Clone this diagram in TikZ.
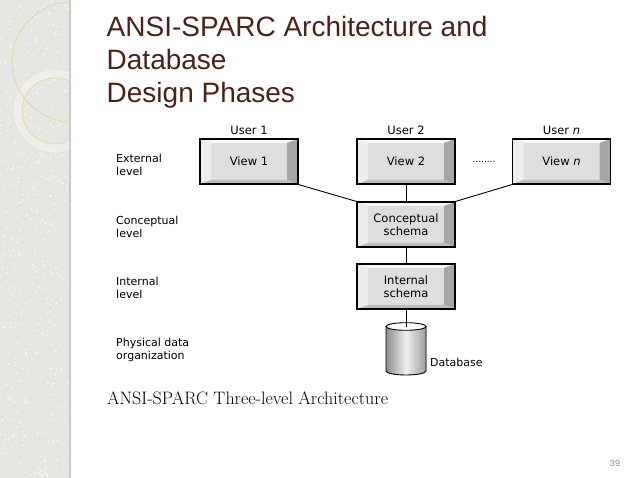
\documentclass[tikz,border=0pt]{standalone}
\usepackage{fontspec}
\setmainfont{Liberation Sans}
\newfontfamily\diafont{DejaVu Sans}
\newfontfamily\capfont{Latin Modern Roman}
\definecolor{titlecol}{HTML}{4B2316}
\definecolor{stripcol}{HTML}{E6E6E3}
\definecolor{goldcol}{HTML}{E6D9A8}
\definecolor{ringcol}{HTML}{EFEEE9}
\definecolor{bevtop}{HTML}{F7F7F7}
\definecolor{bevleft}{HTML}{EDEDED}
\definecolor{bevface}{HTML}{DEDEDE}
\definecolor{bevright}{HTML}{A6A6A6}
\definecolor{bevbottom}{HTML}{BDBDBD}
\tikzset{
  bevelbox/.style={draw=black, line width=1.1pt, minimum width=98pt, minimum height=45pt,
    inner sep=0pt, align=center, font=\diafont\fontsize{11.5}{13.5}\selectfont,
    path picture={
      \path (path picture bounding box.north west) coordinate (bNW)
            (path picture bounding box.north east) coordinate (bNE)
            (path picture bounding box.south west) coordinate (bSW)
            (path picture bounding box.south east) coordinate (bSE);
      \fill[bevface] (bNW) rectangle (bSE);
      \fill[bevtop] (bNW) -- (bNE) -- ([shift={(-11pt,-4pt)}]bNE) -- ([shift={(11pt,-4pt)}]bNW) -- cycle;
      \fill[bevleft] (bNW) -- ([shift={(11pt,-4pt)}]bNW) -- ([shift={(11pt,4pt)}]bSW) -- (bSW) -- cycle;
      \fill[bevright] (bNE) -- (bSE) -- ([shift={(-11pt,4pt)}]bSE) -- ([shift={(-11pt,-4pt)}]bNE) -- cycle;
      \fill[bevbottom] (bSW) -- (bSE) -- ([shift={(-11pt,4pt)}]bSE) -- ([shift={(11pt,4pt)}]bSW) -- cycle;
    }},
  userlbl/.style={font=\diafont\fontsize{11.5}{13}\selectfont, inner sep=0pt, anchor=base},
  levellbl/.style={font=\diafont\fontsize{11}{13}\selectfont, align=left, anchor=north west, inner sep=0pt},
  conn/.style={draw=black, line width=0.9pt}
}
\begin{document}
\begin{tikzpicture}[x=1pt,y=-1pt]
\useasboundingbox (0,0) rectangle (638,478);
\fill[white] (0,0) rectangle (638,478);
% left decorative strip
\fill[stripcol] (0,0) rectangle (70,478);
\pgfmathsetseed{7}
\foreach \i in {1,...,700}{
  \pgfmathsetmacro{\px}{rnd*70}
  \pgfmathsetmacro{\py}{rnd*478}
  \pgfmathsetmacro{\pc}{rnd>0.5 ? 1 : 0}
  \ifdim\pc pt>0.5pt
    \fill[white] (\px,\py) circle[radius=0.8pt];
  \else
    \fill[black!16] (\px,\py) circle[radius=0.5pt];
  \fi
}
\draw[black!22, line width=1.2pt] (70,0) -- (70,478);
\begin{scope}
  \clip (0,0) rectangle (69.4,478);
  \fill[ringcol, even odd rule] (55,111) circle[radius=42pt] (55,111) circle[radius=33pt];
  \draw[black!12, line width=0.5pt] (55,111) circle[radius=42pt];
  \draw[goldcol, line width=0.8pt] (55,111) circle[radius=33pt];
  \draw[goldcol, line width=1pt] (72,62) circle[radius=60pt];
\end{scope}
% title
\node[anchor=north west, align=left, inner sep=0pt, text=titlecol,
      font=\fontsize{28}{33}\selectfont] (title) at (106.5,16.5)
  {ANSI-SPARC Architecture and\\Database\\Design Phases};
% boxes
\node[bevelbox] (view1) at (249,161.5) {View 1};
\node[bevelbox] (view2) at (406,161.5) {View 2};
\node[bevelbox] (viewn) at (561.5,161.5) {View {\itshape n}};
\node[bevelbox] (concept) at (406,224.5) {Conceptual\\schema};
\node[bevelbox] (internal) at (406,286.5) {Internal\\schema};
% users
\node[userlbl] (user1) at (249,135) {User 1};
\node[userlbl] (user2) at (406,135) {User 2};
\node[userlbl] (usern) at (561.5,135) {User {\itshape n}};
\node[font=\diafont\fontsize{9}{10}\selectfont, inner sep=0pt, anchor=base] (dots) at (484,163) {........};
% level labels
\node[levellbl] (lext) at (116,153.5) {External\\level};
\node[levellbl] (lcon) at (116,215.5) {Conceptual\\level};
\node[levellbl] (lint) at (116,276.5) {Internal\\level};
\node[levellbl] (lphy) at (116,337.5) {Physical data\\organization};
% database cylinder
\coordinate (dbtop) at (406,327);
\fill[left color=black!45, right color=black!38, middle color=black!6]
  (386,326.5) -- (386,371) arc[start angle=180, end angle=360, x radius=20pt, y radius=4pt] -- (426,326.5) -- cycle;
\draw[line width=0.9pt] (386,326.5) -- (386,371) arc[start angle=180, end angle=360, x radius=20pt, y radius=4pt] -- (426,326.5);
\draw[line width=0.9pt, fill=white] (406,326.5) ellipse[x radius=20pt, y radius=3.8pt];
\node[font=\diafont\fontsize{11}{13}\selectfont, anchor=west, inner sep=0pt] (dblbl) at (430,362) {Database};
% connectors
\draw[conn] (view1.south east) -- (concept.north west);
\draw[conn] (viewn.south west) -- (concept.north east);
\draw[conn] (view2.south) -- (concept.north);
\draw[conn] (concept.south) -- (internal.north);
\draw[conn] (internal.south) -- (dbtop);
% caption
\node[anchor=base west, inner sep=0pt, font=\capfont\fontsize{18}{20}\selectfont] (caption) at (107,405)
  {ANSI-SPARC Three-level Architecture};
\node[anchor=center, inner sep=0pt, text=black!45, font=\fontsize{9}{10}\selectfont] (pnum) at (615,463) {39};
\end{tikzpicture}
\end{document}
